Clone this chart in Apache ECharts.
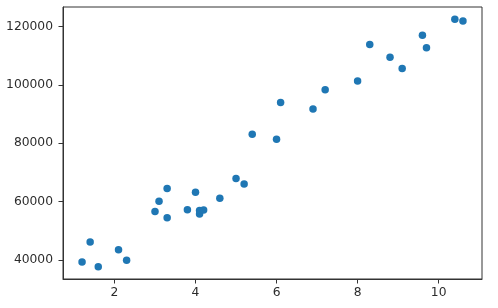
<!DOCTYPE html>
<html><head><meta charset="utf-8">
<script src="https://cdn.jsdelivr.net/npm/echarts@6/dist/echarts.min.js"></script>
<style>html,body{margin:0;padding:0;background:#fff}#c{width:498px;height:308px}</style>
</head><body><div id="c"></div>
<script>
const years = [1.2,1.4,1.6,2.1,2.3,3.0,3.1,3.3,3.3,3.8,4.0,4.1,4.1,4.2,4.6,5.0,5.2,5.4,6.0,6.1,6.9,7.2,8.0,8.3,8.8,9.1,9.6,9.7,10.4,10.6];
const salary = [39344,46206,37732,43526,39892,56643,60151,54446,64446,57190,63219,55795,56958,57082,61112,67939,66030,83089,81364,93941,91739,98274,101303,113813,109432,105583,116970,112636,122392,121873];
const xTicks = [2,4,6,8,10];
const yTicks = [40000,60000,80000,100000,120000];

const pts = years.map((x,i)=>[x,salary[i]]);
const chart = echarts.init(document.getElementById('c'), null, {renderer:'canvas'});
const labelStyle = {color:'#2b2b2b',fontSize:12.3,fontFamily:'DejaVu Sans',formatter:v=>String(v)};
chart.setOption({
  animation:false,
  grid:{left:63,right:16,top:7,bottom:29,containLabel:false,show:true,borderColor:'#333',borderWidth:1},
  xAxis:{type:'value',min:0.73,max:11.07,
    axisLine:{show:true,lineStyle:{color:'#333',width:1}},splitLine:{show:false},
    axisTick:{show:true,length:4.5,lineStyle:{color:'#333'},customValues:xTicks},
    axisLabel:Object.assign({},labelStyle,{customValues:xTicks,margin:8})},
  yAxis:{type:'value',min:33499,max:126625,
    axisLine:{show:true,lineStyle:{color:'#333',width:1}},splitLine:{show:false},
    axisTick:{show:true,length:4.5,lineStyle:{color:'#333'},customValues:yTicks},
    axisLabel:Object.assign({},labelStyle,{customValues:yTicks,margin:10})},
  series:[{type:'scatter',data:pts,symbolSize:7.5,itemStyle:{color:'#1f77b4',opacity:1}}]
});
</script></body></html>
